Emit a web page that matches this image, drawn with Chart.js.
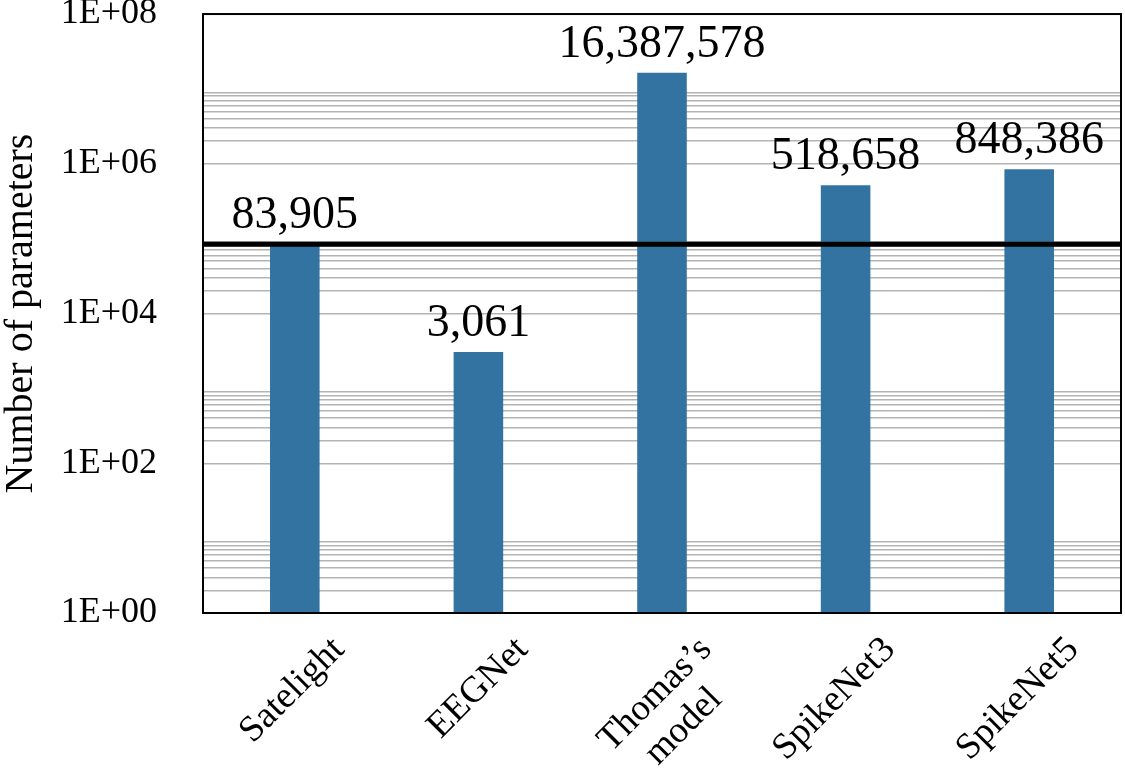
<!DOCTYPE html>
<html>
<head>
<meta charset="utf-8">
<title>Number of parameters</title>
<script src="https://cdn.jsdelivr.net/npm/chart.js@4.4.1/dist/chart.umd.min.js"></script>
<style>
    html, body { margin: 0; padding: 0; background: #fff; }
    #wrap { width: 1125px; height: 769px; }
</style>
</head>
<body>
<div id="wrap"><canvas id="paramChart"></canvas></div>
<script>
// second line padded so it sits centred under the first once rotated
const categories = ['Satelight', 'EEGNet', ['Thomas\u2019s', 'model\u00a0\u00a0\u00a0'], 'SpikeNet3', 'SpikeNet5'];
const paramCounts = [83905, 3061, 16387578, 518658, 848386];
const referenceLine = 83905; // Satelight level, drawn across the plot

const yMajorTicks = [1, 1e2, 1e4, 1e6, 1e8];
const yTickLabels = ['1E+00', '1E+02', '1E+04', '1E+06', '1E+08'];
const yMinorSteps = [2, 3, 4, 5, 6, 7, 8, 9];

const fontFamily = "'Liberation Serif', 'Times New Roman', serif";

function buildTickValues() {
    const values = [];
    yMajorTicks.forEach((major, i) => {
        values.push(major);
        if (i < yMajorTicks.length - 1) {
            yMinorSteps.forEach(step => values.push(major * step));
        }
    });
    return values.map(v => ({ value: v }));
}

const overlayPlugin = {
    id: 'overlay',
    afterDatasetsDraw(chart) {
        const ctx = chart.ctx;
        const area = chart.chartArea;
        const y = chart.scales.y.getPixelForValue(referenceLine);

        ctx.save();
        // thick reference line
        ctx.strokeStyle = '#000';
        ctx.lineWidth = 5;
        ctx.beginPath();
        ctx.moveTo(area.left, y);
        ctx.lineTo(area.right, y);
        ctx.stroke();

        // plot frame
        ctx.lineWidth = 2;
        ctx.strokeRect(area.left, area.top, area.right - area.left, area.bottom - area.top);

        // value labels
        ctx.fillStyle = '#000';
        ctx.font = '46px ' + fontFamily;
        ctx.textAlign = 'center';
        ctx.textBaseline = 'alphabetic';
        chart.getDatasetMeta(0).data.forEach((bar, i) => {
            ctx.fillText(paramCounts[i].toLocaleString('en-US'), bar.x, bar.y - 16);
        });
        ctx.restore();
    }
};

const ctx = document.getElementById('paramChart').getContext('2d');
new Chart(ctx, {
    type: 'bar',
    data: {
        labels: categories,
        datasets: [{
            data: paramCounts,
            backgroundColor: '#3373A1',
            borderWidth: 0,
            barPercentage: 0.27,
            categoryPercentage: 1
        }]
    },
    options: {
        responsive: true,
        maintainAspectRatio: false,
        animation: false,
        layout: { padding: { left: 0, top: 0, right: 4, bottom: 0 } },
        plugins: {
            legend: { display: false },
            tooltip: { enabled: false }
        },
        scales: {
            x: {
                grid: { display: false },
                border: { display: false },
                ticks: {
                    color: '#000',
                    font: { family: fontFamily, size: 37, lineHeight: 1.15 },
                    maxRotation: 45,
                    minRotation: 45,
                    autoSkip: false,
                    labelOffset: 44,
                    padding: 8
                },
                afterFit: (scale) => { scale.height = 156; }
            },
            y: {
                type: 'logarithmic',
                min: 1,
                max: 1e8,
                afterBuildTicks: (scale) => { scale.ticks = buildTickValues(); },
                grid: {
                    color: '#b4b4b4',
                    lineWidth: 1.5,
                    drawTicks: true,
                    tickLength: 46,
                    tickColor: 'rgba(0,0,0,0)'
                },
                border: { display: false },
                ticks: {
                    color: '#000',
                    autoSkip: false,
                    padding: 0,
                    font: { family: fontFamily, size: 36, lineHeight: 0.78 },
                    callback: (value) => {
                        const idx = yMajorTicks.indexOf(value);
                        return idx >= 0 ? yTickLabels[idx] : '';
                    }
                },
                title: {
                    display: true,
                    text: 'Number of parameters',
                    color: '#000',
                    font: { family: fontFamily, size: 40, lineHeight: 1.05 },
                    padding: { top: 0, bottom: 0 }
                },
                afterFit: (scale) => { scale.width = 203; }
            }
        }
    },
    plugins: [overlayPlugin]
});
</script>
</body>
</html>
